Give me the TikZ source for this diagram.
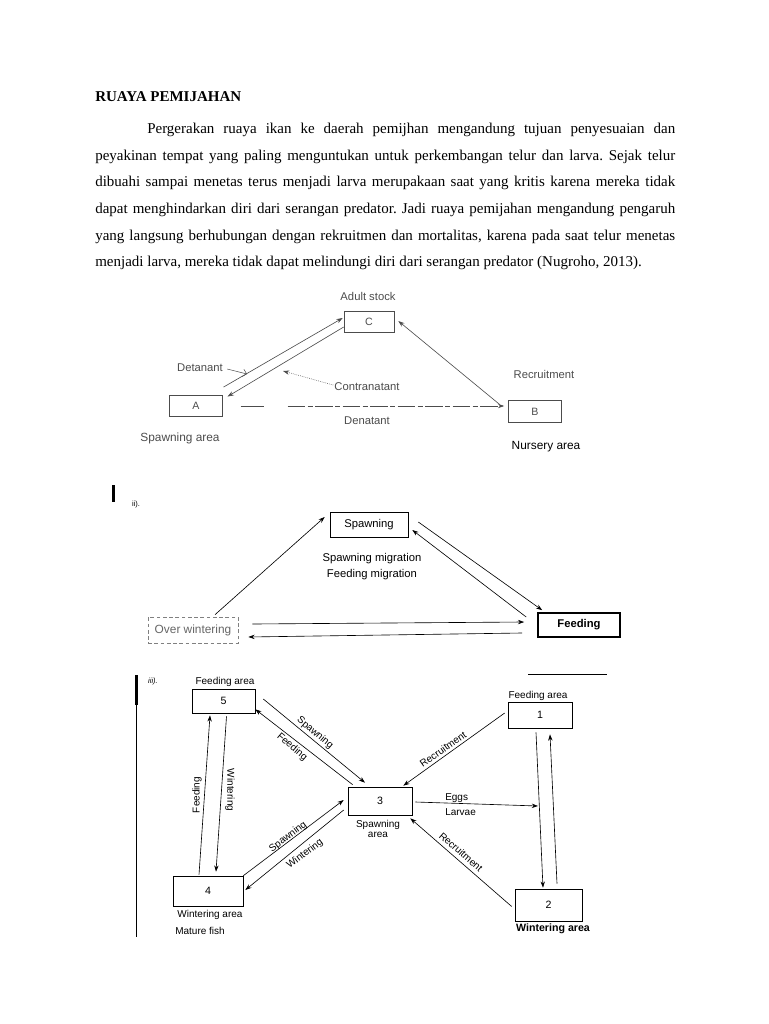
\documentclass[tikz,border=0pt]{standalone}
\usepackage{fontspec}
\setmainfont{Liberation Serif}
\setsansfont{Liberation Sans}
\usetikzlibrary{arrows.meta,calc}
\frenchspacing

\definecolor{scan}{gray}{0.3}

\tikzset{
  txt/.style={anchor=base west, inner sep=0pt, font=\fontsize{12}{14}\selectfont},
  box/.style={draw, line width=0.5pt, inner sep=0pt, font=\sffamily\fontsize{8.5}{10}\selectfont},
  lbl/.style={inner sep=0pt, font=\sffamily\fontsize{9}{10}\selectfont},
  small/.style={inner sep=0pt, font=\sffamily\fontsize{8}{9}\selectfont},
  arr/.style={-{Stealth[length=5pt,width=3.5pt]}, line width=0.5pt}
}

\begin{document}
\begin{tikzpicture}[x=0.8pt, y=-0.8pt]
\useasboundingbox (0,0) rectangle (768,1024);

% text
\node[txt, font=\bfseries\fontsize{12}{14}\selectfont] (title) at (95,102) {RUAYA PEMIJAHAN};
\node[txt] (l1) at (147,134) {\makebox[422.4pt][s]{Pergerakan ruaya ikan ke daerah pemijhan mengandung tujuan penyesuaian dan}};
\node[txt] (l2) at (95,161) {\makebox[464pt][s]{peyakinan tempat yang paling menguntukan untuk perkembangan telur dan larva. Sejak telur}};
\node[txt] (l3) at (95,187) {\makebox[464pt][s]{dibuahi sampai menetas terus menjadi larva merupakaan saat yang kritis karena mereka tidak}};
\node[txt] (l4) at (95,214) {\makebox[464pt][s]{dapat menghindarkan diri dari serangan predator. Jadi ruaya pemijahan mengandung pengaruh}};
\node[txt] (l5) at (95,240) {\makebox[464pt][s]{yang langsung berhubungan dengan rekruitmen dan mortalitas, karena pada saat telur menetas}};
\node[txt] (l6) at (95,266) {menjadi larva, mereka tidak dapat melindungi diri dari serangan predator (Nugroho, 2013).};

% diagram i
\begin{scope}[draw=scan, text=scan]
\node[lbl] (adult) at (368,296) {Adult stock};
\node[box, minimum width=40pt, minimum height=17pt] (C) at (369,321.5) {C};
\node[box, minimum width=42pt, minimum height=17pt] (A) at (196,406) {A};
\node[box, minimum width=42.4pt, minimum height=17.6pt] (B) at (535,411.5) {B};
\node[lbl] (detanant) at (200,368) {Detanant};
\node[lbl] (contra) at (367,387) {Contranatant};
\node[lbl] (recruit) at (544,374) {Recruitment};
\node[lbl] (denatant) at (367,421) {Denatant};
\node[lbl, font=\sffamily\fontsize{9.5}{10}\selectfont] (spawnarea) at (180,438) {Spawning area};
\node[lbl, font=\sffamily\fontsize{9.5}{10}\selectfont, text=black] (nursery) at (546,447) {Nursery area};
\coordinate (detip) at (247,374);
\coordinate (contip) at (283,371);

\draw[arr, scan] ($(A.north east)+(1,-8)$) -- ($(C.west)+(-1,-3.5)$);
\draw[arr, scan] ($(C.west)+(0,5.5)$) -- ($(A.north east)+(5,1.5)$);
\draw[arr, scan] ($(B.west)+(-8.5,-7)$) -- ($(C.east)+(4,-0.5)$);
\draw[scan, -{Straight Barb[length=3pt]}] ($(detanant.east)+(4,1)$) -- (detip);
\draw[arr, scan, densely dotted] ($(contra.west)+(-1,-2)$) -- (contip);
\draw[scan] ($(A.east)+(18,0)$) -- ($(A.east)+(41,0)$);
\draw[arr, scan, dash pattern=on 14pt off 2pt on 4pt off 2pt] ($(A.east)+(65,0)$) -- ($(B.west)+(-4,-5.5)$);
\end{scope}

% diagram ii
\draw[line width=2.4pt] (113,485) -- (113,502);
\node[inner sep=0pt, font=\sffamily\fontsize{6}{7}\selectfont] (tagii) at (136,505) {ii).};
\node[box, font=\sffamily\fontsize{9}{10}\selectfont, minimum width=62.4pt, minimum height=20pt] (spawn) at (369,524.5) {Spawning};
\node[box, draw=black!50, densely dashed, text=black!60, font=\sffamily\fontsize{9.5}{10}\selectfont, minimum width=72pt, minimum height=20.8pt] (winter) at (193,630) {Over wintering};
\node[box, line width=1.3pt, font=\sffamily\bfseries\fontsize{9}{10}\selectfont, minimum width=65.6pt, minimum height=19.2pt] (feed) at (579,625) {Feeding};
\node[lbl] (spmig) at (372,559) {Spawning migration};
\node[lbl] (fdmig) at (372,575) {Feeding migration};

\draw[arr] ($(winter.north)+(22,-2)$) -- ($(spawn.west)+(-5,-7.5)$);
\draw[arr] ($(spawn.east)+(10,-2.5)$) -- ($(feed.north west)+(5,-2)$);
\draw[arr] ($(feed.west)+(-11,-8)$) -- ($(spawn.east)+(4,5.5)$);
\draw[arr] ($(winter.east)+(14,-6)$) -- ($(feed.west)+(-13,-3)$);
\draw[arr] ($(feed.west)+(-15,8)$) -- ($(winter.east)+(10,7)$);

% diagram iii
\draw[line width=2.4pt] (136,675) -- (136,705);
\draw[line width=0.6pt] (136,705) -- (136,937);
\node[inner sep=0pt, font=\sffamily\itshape\fontsize{6}{7}\selectfont] (tagiii) at (153,682) {iii).};
\draw[line width=0.6pt] (528,674) -- (607,674);

\node[box, minimum width=50.4pt, minimum height=19.2pt] (n5) at (223.5,701) {5};
\node[box, minimum width=51.2pt, minimum height=20.8pt] (n1) at (540,715) {1};
\node[box, minimum width=51.2pt, minimum height=22.4pt] (n3) at (380,801) {3};
\node[box, minimum width=56pt, minimum height=24pt] (n4) at (208,891) {4};
\node[box, minimum width=53.6pt, minimum height=25.6pt] (n2) at (548.5,905) {2};

\node[small] (fa5) at (225,682) {Feeding area};
\node[small] (fa1) at (538,696) {Feeding area};
\node[small, align=center, font=\sffamily\fontsize{8}{7.5}\selectfont] (sa3) at (378,829) {Spawning\\area};
\node[small] (wa4) at (210,915) {Wintering area};
\node[small] (mature) at (200,931) {Mature fish};
\node[small, font=\sffamily\bfseries\fontsize{8.5}{10}\selectfont] (wa2) at (553,929) {Wintering area};

\node[small, rotate=-40] (sp53) at (315,733) {Spawning};
\node[small, rotate=-40] (fd35) at (292,747) {Feeding};
\node[small, rotate=35] (rc13) at (443,749) {Recruitment};
\node[small, rotate=-41] (rc23) at (461,852) {Recruitment};
\node[small, anchor=base west] (eggs) at (445,800) {Eggs};
\node[small, anchor=base west] (larvae) at (445,815) {Larvae};
\node[small, rotate=90] (fd45) at (197,795) {Feeding};
\node[small, rotate=-90] (wt54) at (230,790) {Wintering};
\node[small, rotate=37] (sp43) at (288,837) {Spawning};
\node[small, rotate=37] (wt34) at (305,854) {Wintering};
\coordinate (eggtip) at (538,806);

\draw[arr] ($(n5.east)+(8,-2)$) -- ($(n3.north)+(-15,-4)$);
\draw[arr] ($(n3.north west)+(5,-2)$) -- ($(n5.south east)+(0,-4)$);
\draw[arr] ($(n1.west)+(-3,-2)$) -- ($(n3.north east)+(-9,-1)$);
\draw[arr] ($(n2.west)+(-3,1.5)$) -- ($(n3.south east)+(-2,3)$);
\draw[arr] ($(n3.east)+(3,1)$) -- (eggtip);
\draw[arr] ($(n1.south)+(-4,4)$) -- ($(n2.north)+(-5.5,-1)$);
\draw[arr] ($(n2.north)+(8.5,-5)$) -- ($(n1.south)+(10,6)$);
\draw[arr] ($(n5.south)+(3,3)$) -- ($(n4.north)+(8,-4)$);
\draw[arr] ($(n4.north)+(-9,-1)$) -- ($(n5.south)+(-13.5,2)$);
\draw[arr] (n4.north east) -- ($(n3.west)+(-4,-1)$);
\draw[arr] ($(n3.west)+(-4,9)$) -- ($(n4.east)+(2,-1)$);

\end{tikzpicture}
\end{document}
